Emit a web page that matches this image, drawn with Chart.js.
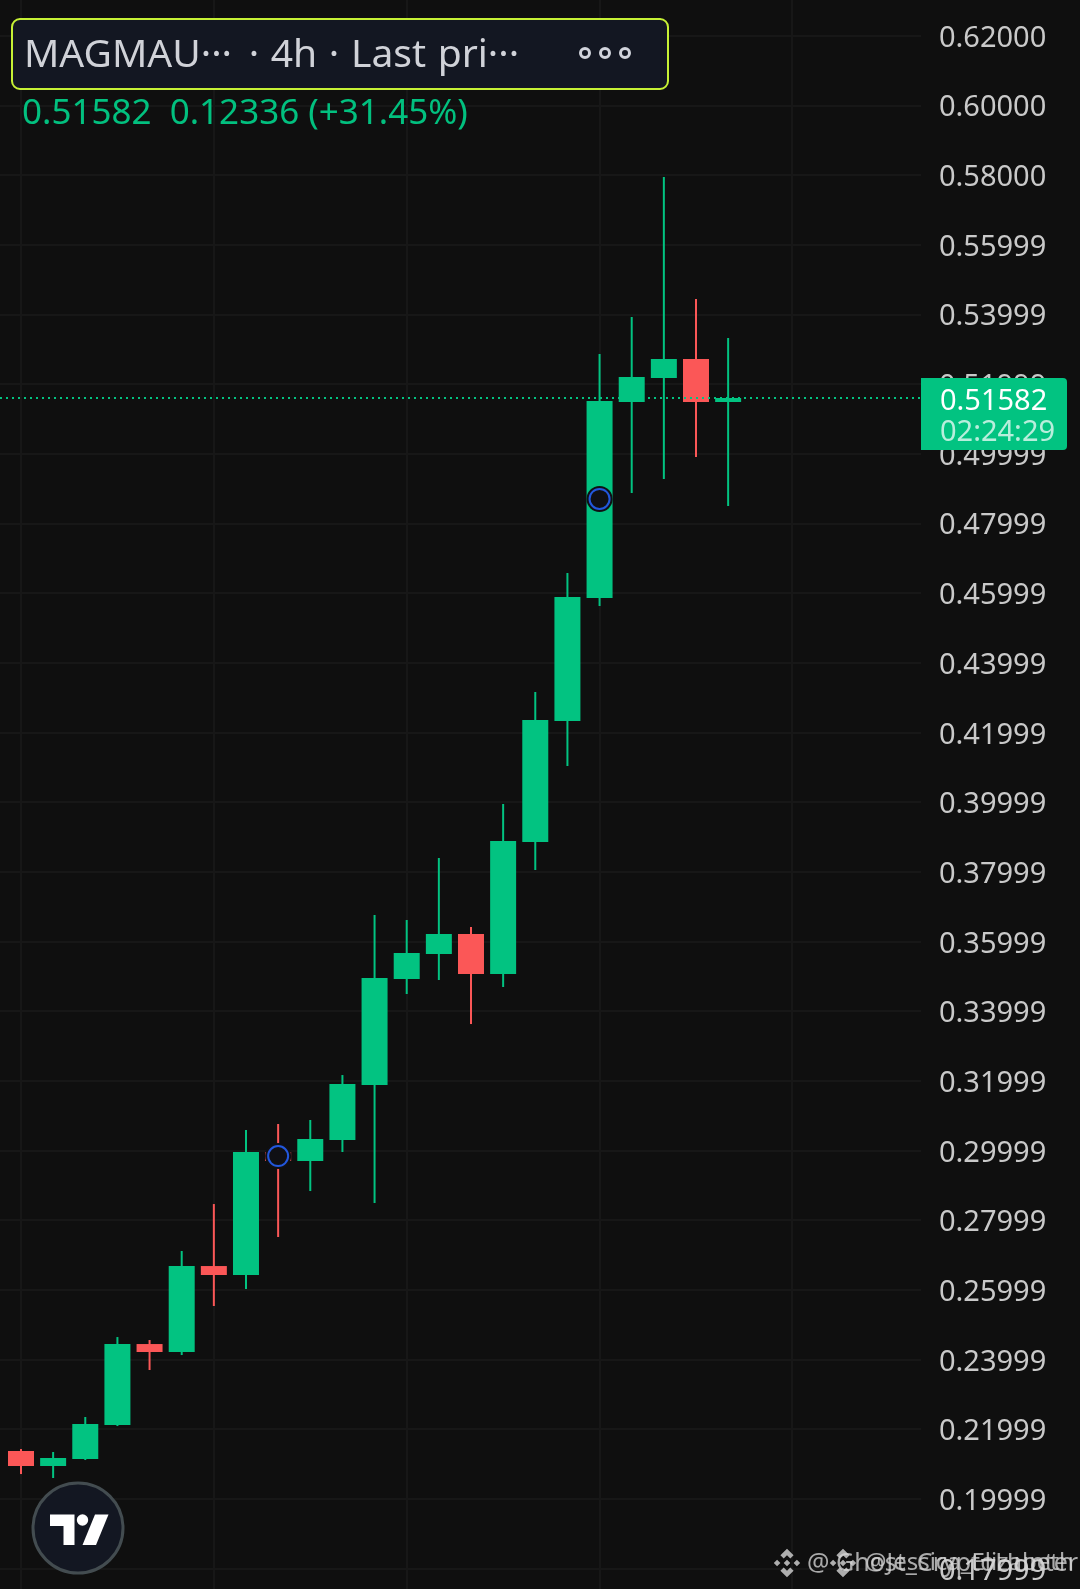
<!DOCTYPE html>
<html>
<head>
<meta charset="utf-8">
<title>MAGMAU 4h</title>
<script src="https://cdn.jsdelivr.net/npm/chart.js@4/dist/chart.umd.min.js"></script>
<style>
  html, body { margin: 0; padding: 0; background: #0f0f0f; }
  body { position: relative; width: 1080px; height: 1589px; overflow: hidden; font-family: "Noto Sans", sans-serif; }
  #chart { position: absolute; left: 0; top: 0; }
  .abs { position: absolute; white-space: pre; line-height: 1; }
  #titleBox { position: absolute; left: 11px; top: 18px; width: 654px; height: 68px; background: #131722; border: 2px solid #c6f135; border-radius: 9px; }
  #title { left: 24px; top: 32px; font-size: 39px; word-spacing: 1.5px; color: #d0d2d8; }
  #title span { margin-right: 5px; }
  #legend { left: 22px; top: 93px; font-size: 35px; color: #02c07f; }
  #priceBox { position: absolute; left: 921px; top: 378px; width: 146px; height: 72px; background: #02c381; border-radius: 0 4px 4px 0; }
  #priceNow { left: 940px; top: 384px; font-size: 29px; color: #ffffff; }
  #priceTimer { left: 940px; top: 415px; font-size: 29px; color: rgba(255,255,255,0.72); }
  .mark { color: rgba(214,214,214,0.78); top: 1549px; }
  #overlay { position: absolute; left: 0; top: 0; }
</style>
</head>
<body>
<canvas id="chart" width="1080" height="1589"></canvas>

<div id="titleBox"></div>
<div class="abs" id="title"><span>MAGMAU···</span> · 4h · Last pri···</div>
<div class="abs" id="legend">0.51582  0.12336 (+31.45%)</div>
<div id="priceBox"></div>
<div class="abs" id="priceNow">0.51582</div>
<div class="abs" id="priceTimer">02:24:29</div>
<div class="abs mark" style="left:807px;font-size:25px">@ Ghost_CryptoHunter</div>
<div class="abs mark" style="left:865px;font-size:24px">@Jessica_Elizabeth</div>

<svg id="overlay" width="1080" height="1589">
  <!-- menu dots in the title box -->
  <g fill="none" stroke="#d1d4dc" stroke-width="3">
    <circle cx="585" cy="53" r="4.5"/>
    <circle cx="605" cy="53" r="4.5"/>
    <circle cx="625" cy="53" r="4.5"/>
  </g>
  <!-- TradingView badge -->
  <circle cx="78" cy="1528" r="45" fill="#131722" stroke="#434c50" stroke-width="3"/>
  <path d="M50 1514.5h24.5v30.5h-11v-19h-13.5z" fill="#fff"/>
  <circle cx="82.5" cy="1520" r="5.7" fill="#fff"/>
  <path d="M95 1514.5h13.5l-12.5 30.5h-13.5z" fill="#fff"/>
  <!-- Binance marks next to the watermarks -->
  <g fill="#d6d6d6" opacity="0.8">
    <g transform="translate(787 1563) scale(1.1)">
      <path d="M0-13l6 6-3 3-3-3-3 3-3-3zM0 13l6-6-3-3-3 3-3-3-3 3zM-9-3l3 3-3 3-3-3zM9-3l3 3-3 3-3-3zM0-3l3 3-3 3-3-3z"/>
    </g>
    <g transform="translate(843 1563) scale(1.1)">
      <path d="M0-13l6 6-3 3-3-3-3 3-3-3zM0 13l6-6-3-3-3 3-3-3-3 3zM-9-3l3 3-3 3-3-3zM9-3l3 3-3 3-3-3zM0-3l3 3-3 3-3-3z"/>
    </g>
  </g>
</svg>

<script>
// Candles, oldest first
const opens = [0.21380, 0.20949, 0.21150, 0.22126, 0.24451, 0.24222, 0.26690, 0.26432, 0.29963, 0.29705, 0.30307, 0.31886, 0.34929, 0.35647, 0.36221, 0.35073, 0.38862, 0.42336, 0.45867, 0.51493, 0.52182, 0.52728, 0.51493];
const closes = [0.20949, 0.21179, 0.22155, 0.24451, 0.24222, 0.26690, 0.26432, 0.29963, 0.29705, 0.30336, 0.31915, 0.34958, 0.35676, 0.36221, 0.35073, 0.38891, 0.42364, 0.45895, 0.51522, 0.52211, 0.52728, 0.51493, 0.51608];
const highs = [0.21437, 0.21351, 0.22356, 0.24652, 0.24566, 0.27121, 0.28470, 0.30595, 0.30767, 0.30882, 0.32173, 0.36766, 0.36623, 0.38403, 0.36422, 0.39953, 0.43168, 0.46584, 0.52871, 0.53933, 0.57952, 0.54450, 0.53330];
const lows = [0.20719, 0.20605, 0.21121, 0.22097, 0.23705, 0.24135, 0.25542, 0.26030, 0.27523, 0.28843, 0.29963, 0.28499, 0.34499, 0.34901, 0.33637, 0.34700, 0.38058, 0.41044, 0.45637, 0.48881, 0.49283, 0.49914, 0.48508];

const priceTicks = [0.62000, 0.60000, 0.58000, 0.55999, 0.53999, 0.51999, 0.49999, 0.47999, 0.45999, 0.43999, 0.41999, 0.39999, 0.37999, 0.35999, 0.33999, 0.31999, 0.29999, 0.27999, 0.25999, 0.23999, 0.21999, 0.19999, 0.17999];
const timeTicks = [0, 6, 12, 18, 24];

const lastPrice = closes[closes.length - 1];
const markerCandles = [8, 18];
const markerPrices = [0.29848, 0.48709];

// Visible range of the two axes
const xMin = -0.653;
const xMax = 28.0;
const yMin = 0.17419;
const yMax = 0.63033;

const UP = '#02c381';
const DOWN = '#fb5757';
const GRID = '#171717';

const candleColors = opens.map((o, i) => (closes[i] >= o ? UP : DOWN));

// The plot runs to the canvas edge, so point sizes must not add layout padding
Chart.registry.getController('scatter').prototype.getMaxOverflow = () => 0;
Chart.registry.getController('line').prototype.getMaxOverflow = () => 0;

new Chart(document.getElementById('chart'), {
  data: {
    datasets: [
      {
        type: 'scatter',
        order: 0,
        data: markerCandles.map((c, i) => ({ x: c, y: markerPrices[i] })),
        pointRadius: 10,
        pointBackgroundColor: 'transparent',
        pointBorderColor: '#2257dc',
        pointBorderWidth: 2
      },
      {
        type: 'scatter',
        order: 1,
        data: markerCandles.map((c, i) => ({ x: c, y: markerPrices[i] })),
        pointRadius: 13,
        pointBackgroundColor: '#101014',
        pointBorderWidth: 0
      },
      {
        type: 'line',
        order: 2,
        data: [{ x: xMin, y: lastPrice }, { x: xMax, y: lastPrice }],
        borderColor: UP,
        borderWidth: 2,
        borderDash: [2, 4],
        pointRadius: 0
      },
      {
        type: 'bar',
        order: 3,
        data: opens.map((o, i) => ({ x: i, y: [o, closes[i]] })),
        backgroundColor: candleColors,
        barThickness: 26,
        inflateAmount: 0
      },
      {
        type: 'bar',
        order: 4,
        data: lows.map((l, i) => ({ x: i, y: [l, highs[i]] })),
        backgroundColor: candleColors,
        barThickness: 2,
        inflateAmount: 0
      }
    ]
  },
  options: {
    responsive: false,
    animation: false,
    devicePixelRatio: 1,
    layout: { padding: 0 },
    datasets: { bar: { grouped: false } },
    plugins: {
      legend: { display: false },
      tooltip: { enabled: false }
    },
    scales: {
      x: {
        type: 'linear',
        offset: false,
        min: xMin,
        max: xMax,
        border: { display: false },
        grid: { color: GRID, lineWidth: 2, drawTicks: false, offset: false },
        ticks: { display: false },
        afterBuildTicks: scale => { scale.ticks = timeTicks.map(value => ({ value })); },
        afterFit: scale => {
          scale.height = 0;
          scale.paddingLeft = 0;
          scale.paddingRight = 0;
        }
      },
      y: {
        type: 'linear',
        position: 'right',
        min: yMin,
        max: yMax,
        border: { display: false },
        grid: { color: GRID, lineWidth: 2, drawTicks: false },
        ticks: {
          autoSkip: false,
          padding: 18,
          labelOffset: 2.5,
          color: '#c9c9c9',
          font: { family: '"Noto Sans"', size: 29 },
          callback: value => value.toFixed(5)
        },
        afterBuildTicks: scale => { scale.ticks = priceTicks.map(value => ({ value })); },
        afterFit: scale => {
          scale.width = 159;
          scale.paddingTop = 0;
          scale.paddingBottom = 0;
        }
      }
    }
  }
});
</script>
</body>
</html>
